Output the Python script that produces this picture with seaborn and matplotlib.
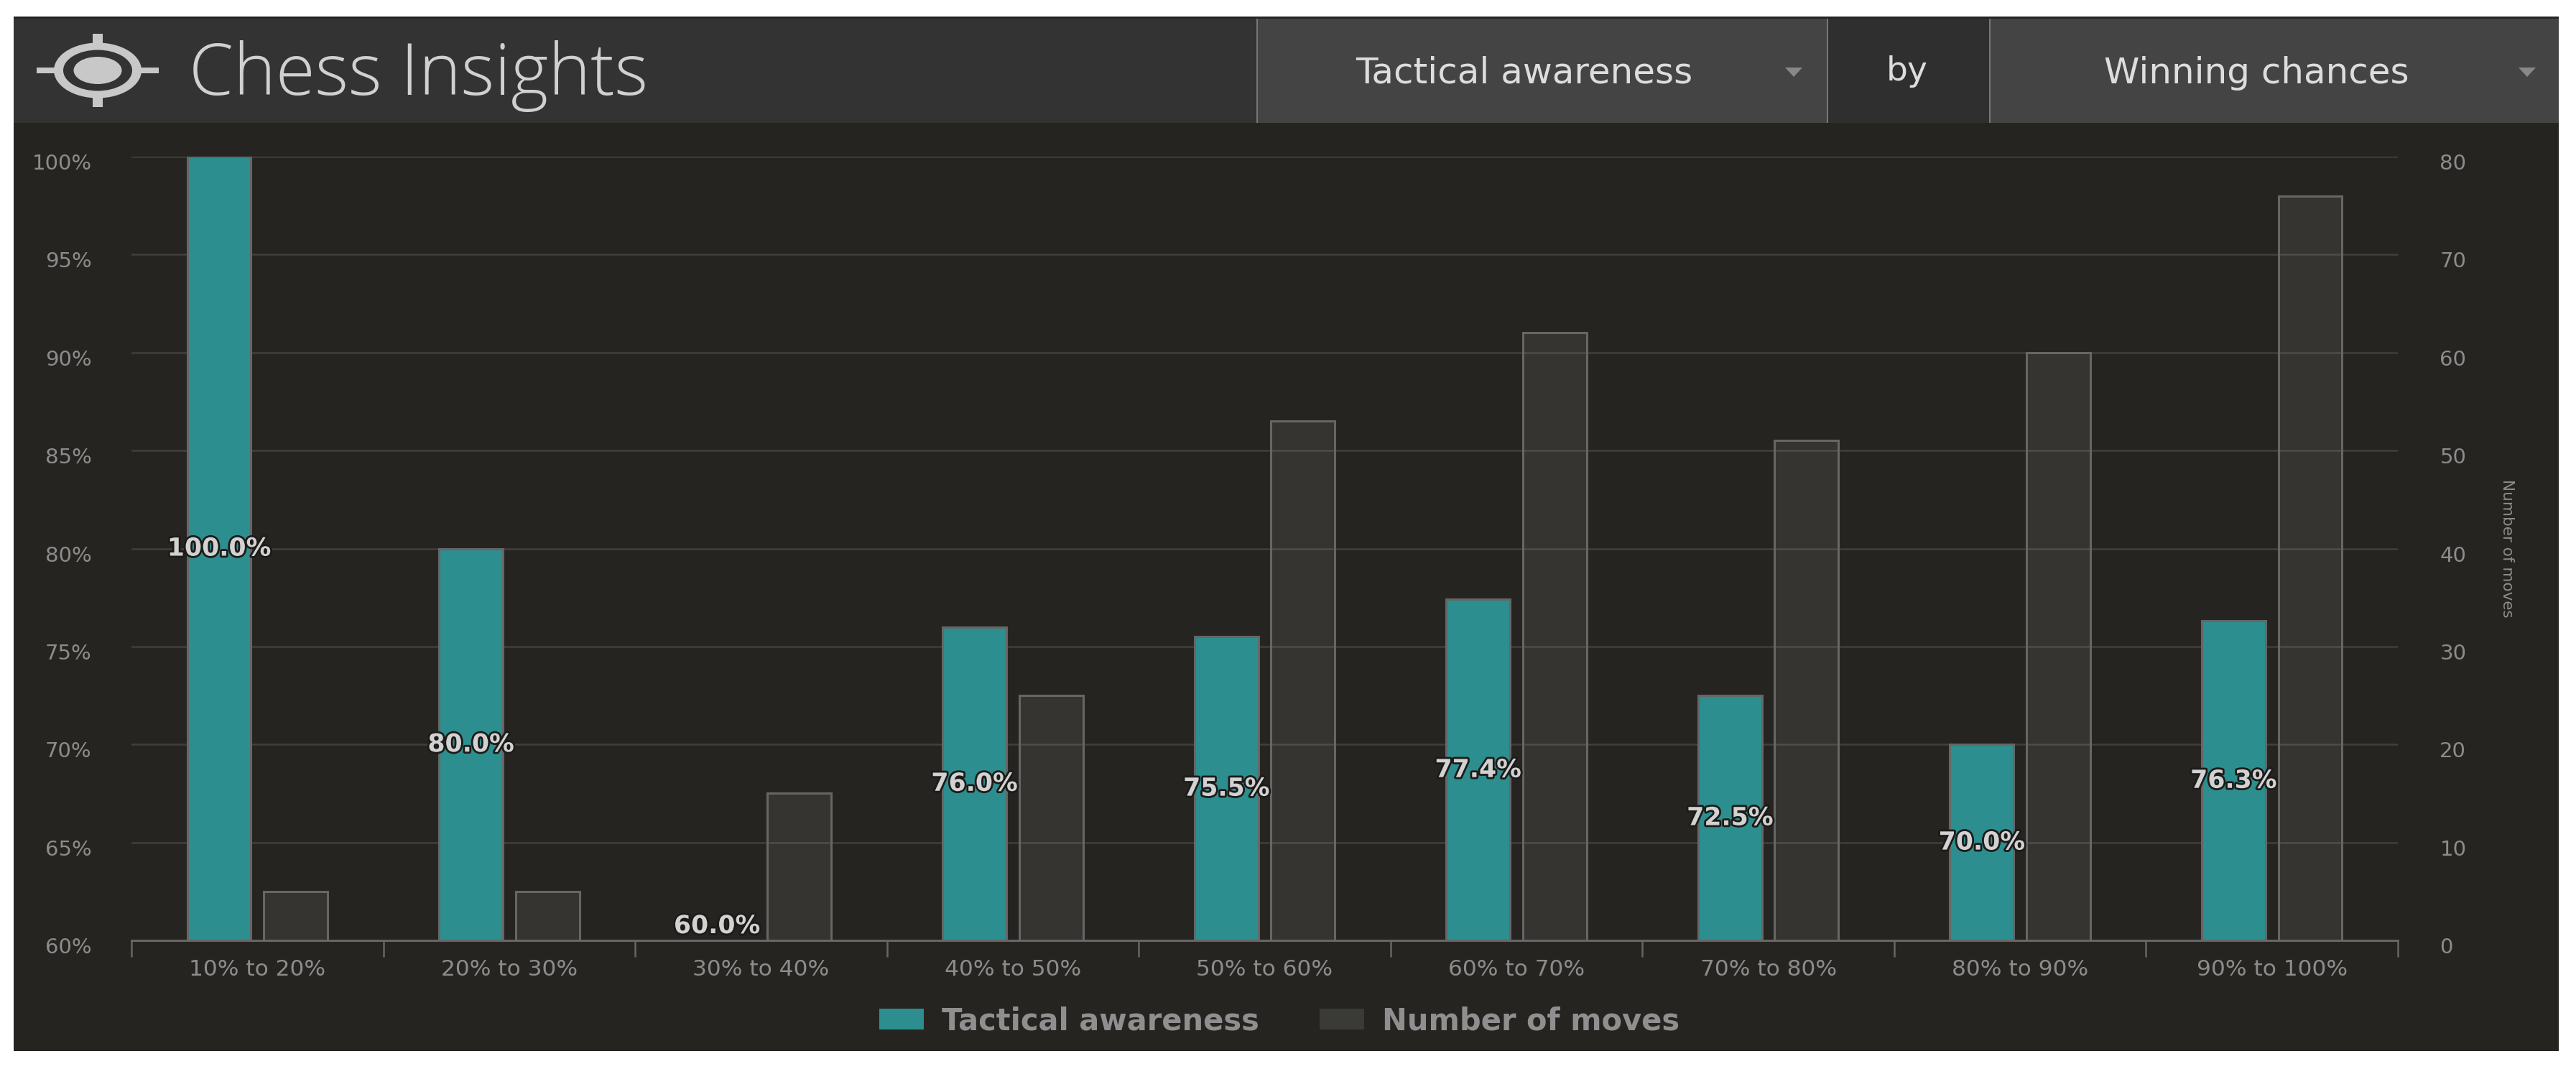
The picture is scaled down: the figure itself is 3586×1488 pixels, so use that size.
import numpy as np
import pandas as pd
import seaborn as sns
import matplotlib.pyplot as plt
import matplotlib.patheffects as pe
from matplotlib.patches import Rectangle, Ellipse, Polygon, Patch
from matplotlib.transforms import ScaledTranslation
from matplotlib.ticker import FixedLocator, NullFormatter

# values
buckets = ["10% to 20%", "20% to 30%", "30% to 40%", "40% to 50%", "50% to 60%",
           "60% to 70%", "70% to 80%", "80% to 90%", "90% to 100%"]
tactical = [100.0, 80.0, 60.0, 76.0, 75.5, 77.4, 72.5, 70.0, 76.3]
moves = [5, 5, 15, 25, 53, 62, 51, 60, 76]
left_ticks = [60, 65, 70, 75, 80, 85, 90, 95, 100]
right_ticks = [0, 10, 20, 30, 40, 50, 60, 70, 80]
series = ["Tactical awareness", "Number of moves"]

W, H = 3586, 1488
BG = "#262421"
TEAL = "#2d8e8f"
EDGE = "#666666"
GRID = "#403f3c"
TICK = "#8c8c8c"

sns.set_theme(style="dark")
plt.rcParams["font.family"] = "DejaVu Sans"

fig = plt.figure(figsize=(W / 100, H / 100), dpi=100, facecolor="white")


def fx(x):
    return x / W


def fy(y):
    return 1 - y / H


def box(x0, y0, x1, y1, color, z=-5):
    fig.add_artist(Rectangle((fx(x0), fy(y1)), (x1 - x0) / W, (y1 - y0) / H,
                             transform=fig.transFigure, fc=color, ec="none", zorder=z))


# panel and header
box(19, 23, 3562, 1463, BG)
box(19, 26, 3562, 171, "#333333")
box(1750, 26, 2544, 171, "#444444")
box(2544, 26, 2770, 171, "#2f2f2f")
box(2770, 26, 3562, 171, "#444444")
for x in [1750, 2544, 2770]:
    box(x - 1, 26, x + 1, 171, "#777777", z=-4)

# logo
ICON = "#c8c8c8"
box(51, 94, 221, 102, ICON, z=-4)
box(129, 47, 143, 149, ICON, z=-4)
for w, h, c in [(122, 77, ICON), (96, 57, "#333333"), (67, 38, ICON)]:
    fig.add_artist(Ellipse((fx(136), fy(98)), w / W, h / H, transform=fig.transFigure,
                           fc=c, ec="none", zorder=-3))

fig.text(fx(263), fy(106), "Chess Insights", color="#d0d0d0", fontsize=72, family="Open Sans",
         weight="light", ha="left", va="center")
fig.text(fx(2122), fy(102), "Tactical awareness", color="#dddddd", fontsize=36, ha="center", va="center")
fig.text(fx(2655), fy(99), "by", color="#dddddd", fontsize=34, ha="center", va="center")
fig.text(fx(3141), fy(102), "Winning chances", color="#dddddd", fontsize=36, ha="center", va="center")
for ax_x in [2497, 3518]:
    fig.add_artist(Polygon([(fx(ax_x - 12), fy(94)), (fx(ax_x + 12), fy(94)), (fx(ax_x), fy(107))],
                           transform=fig.transFigure, fc="#888888", ec="none", zorder=-3))

# plot area
ax = fig.add_axes([fx(183), fy(1309), (3338 - 183) / W, (1309 - 218) / H])
ax.patch.set_alpha(0)
ax2 = ax.twinx()

tactical_df = pd.DataFrame({"bucket": buckets, "value": tactical, "series": series[0]})
moves_df = pd.DataFrame({"bucket": buckets, "value": moves, "series": series[1]})

sns.barplot(data=tactical_df, x="bucket", y="value", hue="series", hue_order=series, order=buckets,
            palette={series[0]: TEAL, series[1]: "#363531"}, width=0.608, gap=0.165, saturation=1,
            dodge=True, edgecolor=EDGE, linewidth=2.2, legend=False, ax=ax)
sns.barplot(data=moves_df, x="bucket", y="value", hue="series", hue_order=series, order=buckets,
            palette={series[0]: TEAL, series[1]: "#363531"}, width=0.608, gap=0.165, saturation=1,
            dodge=True, edgecolor=EDGE, linewidth=2.2, legend=False, ax=ax2)

# the grid shows through the grey bars
for bar in ax2.patches:
    bar.set_facecolor((1, 1, 1, 0.075))

ax.set_ylim(60, 100)
ax2.set_ylim(0, 80)
ax.set_xlim(-0.5, 8.5)
ax.set_xlabel("")
ax.set_ylabel("")
ax2.set_xlabel("")
ax2.set_ylabel("")

ax.set_yticks(left_ticks)
ax.set_yticklabels([f"{v}%" for v in left_ticks])
ax2.set_yticks(right_ticks)
ax2.set_yticklabels([str(v) for v in right_ticks])
ax.yaxis.grid(True, color=GRID, linewidth=1.8)
ax.xaxis.grid(False)
ax2.grid(False)
ax.set_axisbelow(True)

ax.tick_params(axis="y", length=0, pad=40, labelsize=21, labelcolor=TICK)
ax2.tick_params(axis="y", length=0, pad=42, labelsize=21, labelcolor=TICK)
ax.tick_params(axis="x", which="major", length=0, pad=19, labelsize=22.5, labelcolor=TICK)
ax.xaxis.set_minor_locator(FixedLocator(np.arange(-0.5, 9)))
ax.xaxis.set_minor_formatter(NullFormatter())
ax.tick_params(axis="x", which="minor", length=16.5, width=1.8, color=EDGE, bottom=True)

for a in [ax, ax2]:
    for s in a.spines.values():
        s.set_visible(False)
ax.spines["bottom"].set_visible(True)
ax.spines["bottom"].set_color(EDGE)
ax.spines["bottom"].set_linewidth(2.2)

# tick labels sit a little under their grid lines
shift = ScaledTranslation(0, -7 / 100, fig.dpi_scale_trans)
for lab in ax.get_yticklabels() + ax2.get_yticklabels():
    lab.set_transform(lab.get_transform() + shift)

fig.text(fx(3490), fy(763), "Number of moves", rotation=270, color=TICK, fontsize=15.5,
         ha="center", va="center")

# data labels in the middle of the visible part of each teal bar
teal_bars = [b for b in ax.patches if b.get_width() > 0][:len(tactical)]
for bar, v in zip(teal_bars, tactical):
    x = bar.get_x() + bar.get_width() / 2
    y = (v + 60) / 2
    off = (-8, 20) if v == 60 else (0, 0)
    # drawn on the right axis so it stays above the bars
    ax2.annotate(f"{v:.1f}%", (x, y * 2 - 120), xytext=off, textcoords="offset pixels",
                 ha="center", va="center", color="#d2d2d2", fontsize=25, weight="bold",
                 path_effects=[pe.withStroke(linewidth=4, foreground="#1c1b19")])

handles = [Patch(fc=TEAL, ec="none", label=series[0]), Patch(fc="#3a3a37", ec="none", label=series[1])]
fig.legend(handles=handles, loc="center", bbox_to_anchor=(fx(1781), fy(1421)), ncol=2, frameon=False,
           prop={"weight": "bold", "size": 30}, labelcolor="#8f8f8f", handlelength=1.5,
           handleheight=0.7, handletextpad=0.6, columnspacing=2.0, borderaxespad=0, borderpad=0)

fig.savefig("out.png", dpi=100, facecolor="white")
